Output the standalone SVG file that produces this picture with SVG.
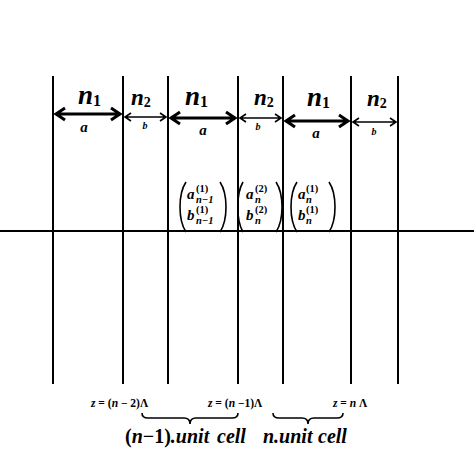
<svg xmlns="http://www.w3.org/2000/svg" width="474" height="474" viewBox="0 0 474 474">
<g id="structure" stroke="#000" stroke-width="2" fill="none">
<line x1="0" y1="231" x2="474" y2="231"/>
<line x1="53" y1="76" x2="53" y2="384"/>
<line x1="123" y1="76" x2="123" y2="384"/>
<line x1="168" y1="76" x2="168" y2="384"/>
<line x1="238" y1="76" x2="238" y2="384"/>
<line x1="283" y1="76" x2="283" y2="384"/>
<line x1="351" y1="76" x2="351" y2="384"/>
<line x1="398" y1="76" x2="398" y2="384"/>
</g>

<g id="connectors" stroke="#000" fill="none">
<g stroke-width="3">
<path d="M56,114 H120 M65,108 L56,114 L65,120 M111,108 L120,114 L111,120"/>
<path d="M171,118 H235 M180,112 L171,118 L180,124 M226,112 L235,118 L226,124"/>
<path d="M286,121 H348 M295,115 L286,121 L295,127 M339,115 L348,121 L339,127"/>
</g>
<g stroke-width="1.6">
<path d="M125,117 H166 M131,113 L125,117 L131,121 M160,113 L166,117 L160,121"/>
<path d="M240,118 H281 M246,114 L240,118 L246,122 M275,114 L281,118 L275,122"/>
<path d="M353,122 H396 M359,118 L353,122 L359,126 M390,118 L396,122 L390,126"/>
</g>
</g>

<g id="layer1">
<text font-family="Times New Roman" font-weight="bold" font-style="italic" font-size="27" x="78" y="104">n<tspan font-style="normal" font-size="16" dy="2">1</tspan></text>
<text font-family="Times New Roman" font-weight="bold" font-style="italic" font-size="15" text-anchor="middle" x="84" y="132">a</text>
</g>
<g id="layer2">
<text font-family="Times New Roman" font-weight="bold" font-style="italic" font-size="23" x="131" y="105">n<tspan font-style="normal" font-size="14" dy="2">2</tspan></text>
<text font-family="Times New Roman" font-weight="bold" font-style="italic" font-size="10" text-anchor="middle" x="145" y="129">b</text>
</g>
<g id="layer3">
<text font-family="Times New Roman" font-weight="bold" font-style="italic" font-size="27" x="185" y="105">n<tspan font-style="normal" font-size="16" dy="2">1</tspan></text>
<text font-family="Times New Roman" font-weight="bold" font-style="italic" font-size="15" text-anchor="middle" x="203" y="135">a</text>
</g>
<g id="layer4">
<text font-family="Times New Roman" font-weight="bold" font-style="italic" font-size="23" x="254" y="105">n<tspan font-style="normal" font-size="14" dy="2">2</tspan></text>
<text font-family="Times New Roman" font-weight="bold" font-style="italic" font-size="10" text-anchor="middle" x="258" y="130">b</text>
</g>
<g id="layer5">
<text font-family="Times New Roman" font-weight="bold" font-style="italic" font-size="27" x="307" y="106">n<tspan font-style="normal" font-size="16" dy="2">1</tspan></text>
<text font-family="Times New Roman" font-weight="bold" font-style="italic" font-size="15" text-anchor="middle" x="316" y="138">a</text>
</g>
<g id="layer6">
<text font-family="Times New Roman" font-weight="bold" font-style="italic" font-size="23" x="367" y="106">n<tspan font-style="normal" font-size="14" dy="2">2</tspan></text>
<text font-family="Times New Roman" font-weight="bold" font-style="italic" font-size="10" text-anchor="middle" x="374" y="135">b</text>
</g>

<g id="vec1">
<path stroke="#000" stroke-width="1.6" fill="none" d="M186,182 C178,194 178,220 186,232 M220,182 C228,194 228,220 220,232"/>
<text font-family="Times New Roman" font-weight="bold" font-style="italic" font-size="15" x="187" y="199">a</text>
<text font-family="Times New Roman" font-weight="bold" font-size="10.5" x="196" y="192">(1)</text>
<text font-family="Times New Roman" font-weight="bold" font-style="italic" font-size="10.5" x="196" y="203">n&#8722;1</text>
<text font-family="Times New Roman" font-weight="bold" font-style="italic" font-size="15" x="187" y="220">b</text>
<text font-family="Times New Roman" font-weight="bold" font-size="10.5" x="196" y="213">(1)</text>
<text font-family="Times New Roman" font-weight="bold" font-style="italic" font-size="10.5" x="196" y="224">n&#8722;1</text>
</g>
<g id="vec2">
<path stroke="#000" stroke-width="1.6" fill="none" d="M243,182 C236,194 236,220 243,232 M276,182 C284,194 284,220 276,232"/>
<text font-family="Times New Roman" font-weight="bold" font-style="italic" font-size="15" x="246" y="199">a</text>
<text font-family="Times New Roman" font-weight="bold" font-size="10.5" x="255" y="192">(2)</text>
<text font-family="Times New Roman" font-weight="bold" font-style="italic" font-size="10.5" x="255" y="203">n</text>
<text font-family="Times New Roman" font-weight="bold" font-style="italic" font-size="15" x="246" y="220">b</text>
<text font-family="Times New Roman" font-weight="bold" font-size="10.5" x="255" y="213">(2)</text>
<text font-family="Times New Roman" font-weight="bold" font-style="italic" font-size="10.5" x="255" y="224">n</text>
</g>
<g id="vec3">
<path stroke="#000" stroke-width="1.6" fill="none" d="M297,182 C289,194 289,220 297,232 M329,182 C337,194 337,220 329,232"/>
<text font-family="Times New Roman" font-weight="bold" font-style="italic" font-size="15" x="298" y="199">a</text>
<text font-family="Times New Roman" font-weight="bold" font-size="10.5" x="306" y="192">(1)</text>
<text font-family="Times New Roman" font-weight="bold" font-style="italic" font-size="10.5" x="306" y="203">n</text>
<text font-family="Times New Roman" font-weight="bold" font-style="italic" font-size="15" x="298" y="220">b</text>
<text font-family="Times New Roman" font-weight="bold" font-size="10.5" x="306" y="213">(1)</text>
<text font-family="Times New Roman" font-weight="bold" font-style="italic" font-size="10.5" x="306" y="224">n</text>
</g>

<g id="positions">
<text font-family="Times New Roman" font-weight="bold" font-size="11.5" x="91" y="407"><tspan font-style="italic">z</tspan> = (<tspan font-style="italic">n</tspan> &#8722; 2)&#923;</text>
<text font-family="Times New Roman" font-weight="bold" font-size="11.5" x="208" y="407"><tspan font-style="italic">z</tspan> = (<tspan font-style="italic">n</tspan> &#8722;1)&#923;</text>
<text font-family="Times New Roman" font-weight="bold" font-size="11.5" x="333" y="407"><tspan font-style="italic">z</tspan> = <tspan font-style="italic">n</tspan> &#923;</text>
</g>

<g id="cells">
<path stroke="#000" stroke-width="1.6" fill="none" d="M142,413 Q142,418 148,418 L184,418 Q190,418 190,424 Q190,418 196,418 L232,418 Q238,418 238,413 M273,413 Q273,418 279,418 L302,418 Q308,418 308,424 Q308,418 314,418 L337,418 Q343,418 343,413"/>
<text font-family="Times New Roman" font-weight="bold" font-size="20" x="125" y="443">(<tspan font-style="italic">n</tspan>&#8722;1)<tspan font-style="italic">.unit</tspan></text>
<text font-family="Times New Roman" font-weight="bold" font-style="italic" font-size="20" x="217" y="443">cell</text>
<text font-family="Times New Roman" font-weight="bold" font-style="italic" font-size="20" x="263" y="443">n.unit</text>
<text font-family="Times New Roman" font-weight="bold" font-style="italic" font-size="20" x="318" y="443">cell</text>
</g>
</svg>
